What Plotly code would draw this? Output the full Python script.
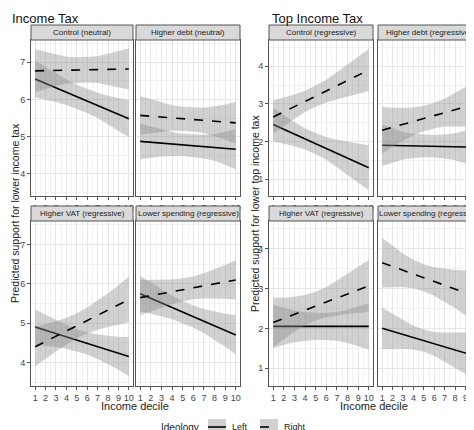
import plotly.graph_objects as go

deciles = list(range(1, 11))
panel_names = ["Control (neutral)", "Higher debt (neutral)", "Higher VAT (regressive)", "Lower spending (regressive)",
               "Control (regressive)", "Higher debt (regressive)", "Higher VAT (regressive)", "Lower spending (regressive)"]
# line endpoints at decile 1 and 10
left_ends = [[6.55, 5.48], [4.87, 4.66], [4.90, 4.15], [5.75, 4.70],
             [2.45, 1.30], [1.90, 1.85], [2.05, 2.05], [2.00, 1.30]]
right_ends = [[6.77, 6.82], [5.57, 5.37], [4.40, 5.60], [5.65, 6.10],
              [2.65, 3.90], [2.30, 3.00], [2.15, 3.07], [3.65, 2.80]]
# half-widths of confidence bands per decile
left_hw = [
    [0.50, 0.44, 0.38, 0.34, 0.32, 0.32, 0.34, 0.38, 0.44, 0.50],
    [0.48, 0.42, 0.36, 0.32, 0.30, 0.30, 0.32, 0.36, 0.44, 0.54],
    [0.45, 0.40, 0.34, 0.30, 0.28, 0.28, 0.31, 0.36, 0.42, 0.50],
    [0.45, 0.40, 0.34, 0.30, 0.28, 0.28, 0.31, 0.36, 0.42, 0.50],
    [0.45, 0.38, 0.32, 0.28, 0.28, 0.30, 0.36, 0.44, 0.52, 0.60],
    [0.55, 0.45, 0.37, 0.32, 0.30, 0.30, 0.32, 0.36, 0.44, 0.52],
    [0.55, 0.46, 0.40, 0.36, 0.34, 0.34, 0.36, 0.42, 0.50, 0.58],
    [0.52, 0.44, 0.36, 0.30, 0.28, 0.30, 0.36, 0.44, 0.52, 0.60],
]
right_hw = [
    [0.58, 0.50, 0.42, 0.36, 0.34, 0.34, 0.36, 0.42, 0.48, 0.55],
    [0.52, 0.46, 0.40, 0.34, 0.32, 0.32, 0.34, 0.40, 0.47, 0.57],
    [0.50, 0.44, 0.38, 0.34, 0.32, 0.33, 0.37, 0.43, 0.50, 0.58],
    [0.45, 0.40, 0.35, 0.31, 0.29, 0.29, 0.32, 0.37, 0.43, 0.50],
    [0.45, 0.38, 0.32, 0.28, 0.28, 0.30, 0.36, 0.42, 0.50, 0.56],
    [0.62, 0.52, 0.44, 0.37, 0.34, 0.34, 0.37, 0.44, 0.52, 0.60],
    [0.62, 0.52, 0.44, 0.38, 0.36, 0.38, 0.44, 0.50, 0.58, 0.65],
    [0.62, 0.52, 0.42, 0.36, 0.34, 0.36, 0.42, 0.48, 0.56, 0.65],
]
group_titles = ["Income Tax", "Top Income Tax"]
y_titles = ["Predicted support for lower income tax", "Predicted support for lower top income tax"]
x_title = "Income decile"

W, H = 474, 430
xd = [[23, 125], [128, 232], [23, 125], [128, 232], [261, 365], [370, 472], [261, 365], [370, 472]]
yd = [[32, 188], [32, 188], [213, 378], [213, 378]] * 2
yr = [[3.4, 7.6]] * 4 + [[0.55, 4.7]] * 4
yt = [[4, 5, 6, 7]] * 4 + [[1, 2, 3, 4]] * 4

fig = go.Figure()
layout = dict(width=W, height=H, autosize=False, margin=dict(l=0, r=0, t=0, b=0, autoexpand=False),
              showlegend=False, plot_bgcolor="white", paper_bgcolor="white",
              font=dict(family="Liberation Sans, Arial", size=10, color="#333"))
shapes, annots = [], []

def lin(ends, d):
    return ends[0] + (ends[1] - ends[0]) * (d - 1) / 9

for i in range(8):
    ax = "" if i == 0 else str(i + 1)
    xa, ya = "x" + ax, "y" + ax
    for ends, hw, dash in [(left_ends[i], left_hw[i], "solid"), (right_ends[i], right_hw[i], "dash")]:
        mid = [lin(ends, d) for d in deciles]
        up = [m + h for m, h in zip(mid, hw)]
        lo = [m - h for m, h in zip(mid, hw)]
        fig.add_trace(go.Scatter(x=deciles + deciles[::-1], y=up + lo[::-1], fill="toself",
                                 fillcolor="rgba(140,140,140,0.4)", line=dict(width=0),
                                 mode="lines", xaxis=xa, yaxis=ya, hoverinfo="skip"))
        fig.add_trace(go.Scatter(x=[1, 10], y=ends, mode="lines", line=dict(color="black", width=1.6, dash=dash),
                                 xaxis=xa, yaxis=ya))
    x0, x1 = xd[i]; t0, t1 = yd[i]
    show_y = i in (0, 2, 4, 6)
    layout["xaxis" + ax] = dict(domain=[x0 / W, x1 / W], range=[0.6, 10.4], tickvals=deciles,
                                anchor=ya, automargin=False, showgrid=True, gridcolor="#e6e6e6",
                                minor=dict(dtick=0.5, showgrid=True, gridcolor="#f2f2f2"), zeroline=False,
                                showline=True, mirror=True, linecolor="#555", ticks="outside", ticklen=3,
                                tickcolor="#555", tickfont=dict(size=9, color="#444"), fixedrange=True)
    layout["yaxis" + ax] = dict(domain=[1 - t1 / H, 1 - t0 / H], range=yr[i], tickvals=yt[i],
                                showticklabels=show_y, anchor=xa, automargin=False, showgrid=True,
                                gridcolor="#e6e6e6", minor=dict(dtick=0.5, showgrid=True, gridcolor="#f2f2f2"),
                                zeroline=False, showline=True, mirror=True, linecolor="#555",
                                ticks="outside" if show_y else "", ticklen=3, tickcolor="#555",
                                tickfont=dict(size=9, color="#444"))
    s0 = t0 - 15
    shapes.append(dict(type="rect", xref="paper", yref="paper", x0=x0 / W, x1=x1 / W,
                       y0=1 - t0 / H, y1=1 - s0 / H, fillcolor="#d9d9d9", line=dict(color="#555", width=1)))
    annots.append(dict(text=panel_names[i], xref="paper", yref="paper", x=(x0 + x1) / 2 / W,
                       y=1 - (s0 + t0) / 2 / H, xanchor="center", yanchor="middle", showarrow=False,
                       font=dict(size=8, color="#222")))

for gx, title in zip([2, 262], group_titles):
    annots.append(dict(text=title, xref="paper", yref="paper", x=gx / W, y=1 - 1 / H, xanchor="left",
                       yanchor="top", showarrow=False, font=dict(size=13, color="#111")))
for gx, title in zip([7, 247], y_titles):
    annots.append(dict(text=title, xref="paper", yref="paper", x=gx / W, y=1 - 205 / H, textangle=-90,
                       xanchor="center", yanchor="middle", showarrow=False, font=dict(size=10.5, color="#222")))
for cx in [127, 366]:
    annots.append(dict(text=x_title, xref="paper", yref="paper", x=cx / W, y=1 - 398 / H,
                       xanchor="center", yanchor="middle", showarrow=False, font=dict(size=11, color="#222")))
# legend
annots.append(dict(text="Ideology", xref="paper", yref="paper", x=172 / W, y=1 - 419 / H,
                   xanchor="center", yanchor="middle", showarrow=False, font=dict(size=10, color="#222")))
for bx, lab, dash in [(200, "Left", "solid"), (252, "Right", "dash")]:
    shapes.append(dict(type="rect", xref="paper", yref="paper", x0=bx / W, x1=(bx + 18) / W,
                       y0=1 - 427 / H, y1=1 - 411 / H, fillcolor="rgba(140,140,140,0.4)", line=dict(width=0)))
    shapes.append(dict(type="line", xref="paper", yref="paper", x0=bx / W, x1=(bx + 18) / W,
                       y0=1 - 419 / H, y1=1 - 419 / H, line=dict(color="black", width=1.6, dash=dash)))
    annots.append(dict(text=lab, xref="paper", yref="paper", x=(bx + 22) / W, y=1 - 419 / H, xanchor="left",
                       yanchor="middle", showarrow=False, font=dict(size=9, color="#222")))
layout["shapes"] = shapes
layout["annotations"] = annots
fig.update_layout(**layout)
fig.write_html("out.html", config=dict(responsive=False))
